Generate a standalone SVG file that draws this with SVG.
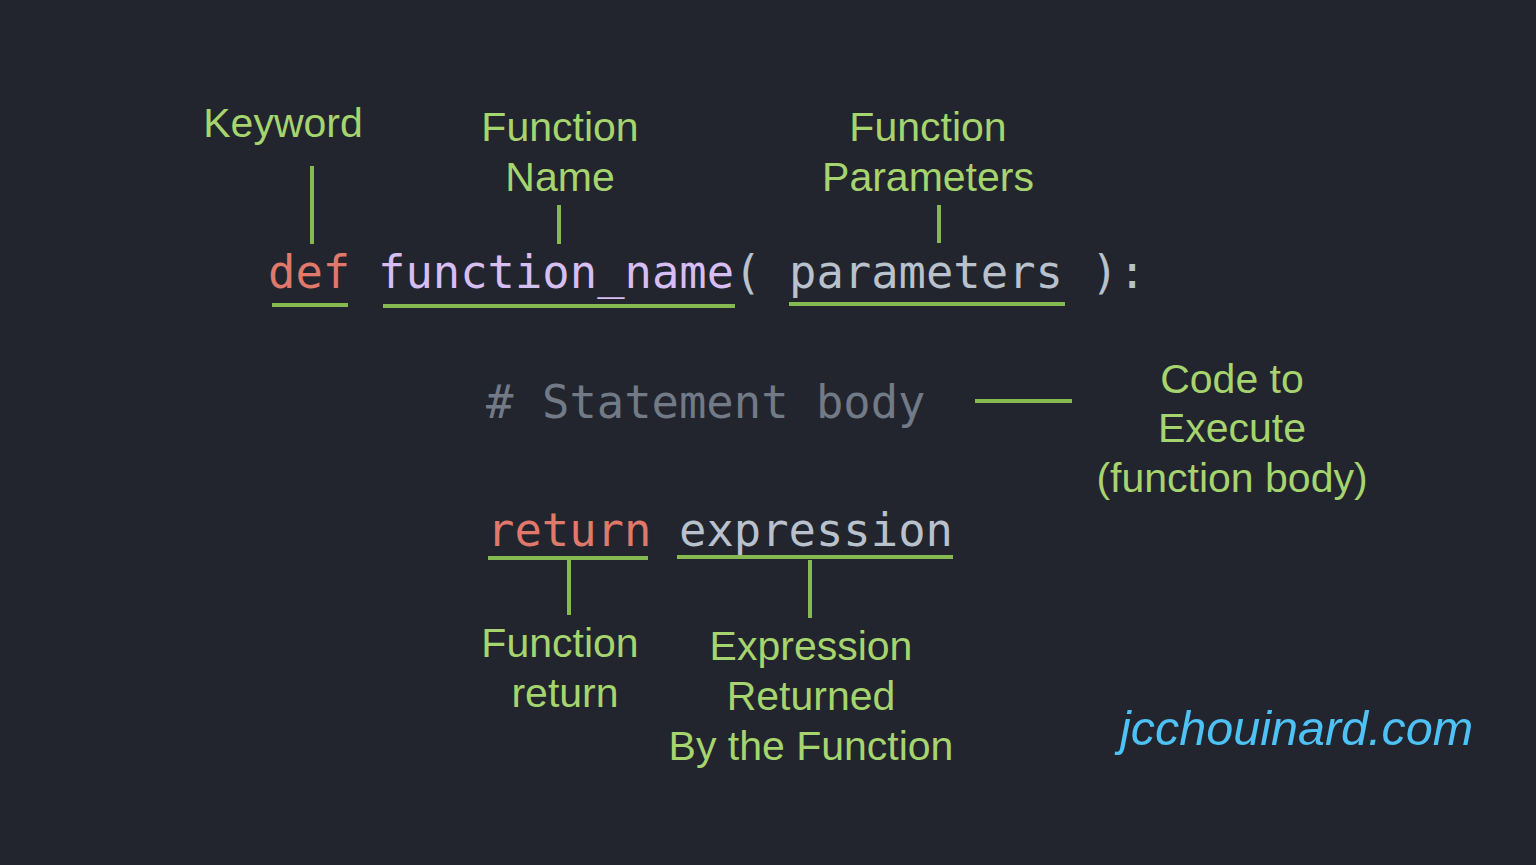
<svg xmlns="http://www.w3.org/2000/svg" width="1536" height="865" viewBox="0 0 1536 865">
<style>
.code{font-family:"DejaVu Sans Mono","Liberation Mono",monospace;font-size:45.5px}
.kw{fill:#e0786b}
.fn{fill:#d6bdf2}
.pm{fill:#b8c1cc}
.cm{fill:#717a86}
.lbl{font-family:"Liberation Sans",Arial,sans-serif;font-size:41px;fill:#a6d46f;text-anchor:middle}
.ln{stroke:#86b94f;stroke-width:4;fill:none}
.site{font-family:"Liberation Sans",Arial,sans-serif;font-size:48.5px;font-style:italic;fill:#4ec2f5}
</style>
<rect width="1536" height="865" fill="#22252d"/>
<g id="code">
<text class="code kw" x="268" y="288">def</text>
<text class="code fn" x="378" y="288">function_name</text>
<text class="code pm" x="734" y="288">(</text>
<text class="code pm" x="789" y="288">parameters</text>
<text class="code pm" x="1091" y="288">):</text>
<text class="code cm" x="486" y="418">#</text>
<text class="code cm" x="542" y="418">Statement body</text>
<text class="code kw" x="487" y="546">return</text>
<text class="code pm" x="679" y="546">expression</text>
</g>
<g id="connectors">
<line class="ln" x1="272" y1="305" x2="348" y2="305"/>
<line class="ln" x1="383" y1="306" x2="735" y2="306"/>
<line class="ln" x1="789" y1="304" x2="1065" y2="304"/>
<line class="ln" x1="488" y1="558" x2="648" y2="558"/>
<line class="ln" x1="677" y1="557" x2="953" y2="557"/>
<line class="ln" x1="312" y1="166" x2="312" y2="244"/>
<line class="ln" x1="559" y1="205" x2="559" y2="244"/>
<line class="ln" x1="939" y1="205" x2="939" y2="243"/>
<line class="ln" x1="569" y1="560" x2="569" y2="615"/>
<line class="ln" x1="810" y1="560" x2="810" y2="618"/>
<line class="ln" x1="975" y1="401" x2="1072" y2="401"/>
</g>
<g id="label-keyword"><text class="lbl" x="283" y="137">Keyword</text></g>
<g id="label-function-name"><text class="lbl" x="560" y="141">Function</text><text class="lbl" x="560" y="191">Name</text></g>
<g id="label-parameters"><text class="lbl" x="928" y="141">Function</text><text class="lbl" x="928" y="191">Parameters</text></g>
<g id="label-body"><text class="lbl" x="1232" y="393">Code to</text><text class="lbl" x="1232" y="442">Execute</text><text class="lbl" x="1232" y="492">(function body)</text></g>
<g id="label-return"><text class="lbl" x="560" y="657">Function</text><text class="lbl" x="565" y="707">return</text></g>
<g id="label-expression"><text class="lbl" x="811" y="660">Expression</text><text class="lbl" x="811" y="710">Returned</text><text class="lbl" x="811" y="760">By the Function</text></g>
<g id="site"><text class="site" x="1120" y="745">jcchouinard.com</text></g>
</svg>
